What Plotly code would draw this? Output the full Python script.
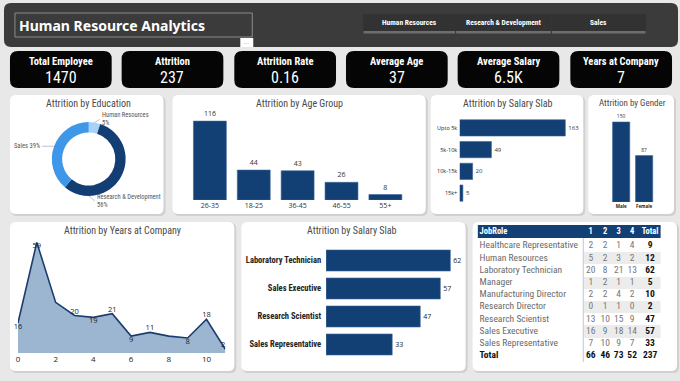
import math
import plotly.graph_objects as go

W, H = 680, 381

# ---------------- data ----------------
kpi_labels = ["Total Employee", "Attrition", "Attrition Rate", "Average Age", "Average Salary", "Years at Company"]
kpi_values = ["1470", "237", "0.16", "37", "6.5K", "7"]

departments = ["Human Resources", "Research & Development", "Sales"]
dept_attrition = [12, 133, 92]

age_groups = ["26-35", "18-25", "36-45", "46-55", "55+"]
age_attrition = [116, 44, 43, 26, 8]

salary_slabs = ["Upto 5k", "5k-10k", "10k-15k", "15k+"]
salary_attrition = [163, 49, 20, 5]

genders = ["Male", "Female"]
gender_attrition = [150, 87]

years_at_company = [0, 1, 2, 3, 4, 5, 6, 7, 8, 9, 10, 11]
years_attrition = [16, 59, 27, 20, 19, 21, 9, 11, 9, 8, 18, 2]
years_label_shown = [True, True, False, True, True, True, True, True, False, True, True, True]
years_ticks = [0, 2, 4, 6, 8, 10]

top_roles = ["Laboratory Technician", "Sales Executive", "Research Scientist", "Sales Representative"]
top_role_attrition = [62, 57, 47, 33]

job_roles = ["Healthcare Representative", "Human Resources", "Laboratory Technician", "Manager",
             "Manufacturing Director", "Research Director", "Research Scientist", "Sales Executive",
             "Sales Representative"]
level_1 = [2, 5, 20, 1, 2, 0, 13, 16, 7]
level_2 = [2, 2, 8, 2, 2, 1, 10, 9, 10]
level_3 = [1, 3, 21, 1, 4, 1, 15, 18, 9]
level_4 = [4, 2, 13, 1, 2, 0, 9, 14, 7]
level_names = ["1", "2", "3", "4"]

# ---------------- helpers ----------------
def X(x):
    return x / W

def Y(y):
    return 1 - y / H

def rr_path(x0, y0, x1, y1, r):
    return (f"M {X(x0+r)},{Y(y0)} L {X(x1-r)},{Y(y0)} Q {X(x1)},{Y(y0)} {X(x1)},{Y(y0+r)} "
            f"L {X(x1)},{Y(y1-r)} Q {X(x1)},{Y(y1)} {X(x1-r)},{Y(y1)} "
            f"L {X(x0+r)},{Y(y1)} Q {X(x0)},{Y(y1)} {X(x0)},{Y(y1-r)} "
            f"L {X(x0)},{Y(y0+r)} Q {X(x0)},{Y(y0)} {X(x0+r)},{Y(y0)} Z")

NAVY = "#123f74"
COND = "Roboto Condensed, Liberation Sans Narrow, DejaVu Sans Condensed, Roboto, sans-serif"
BODY = "Open Sans, Noto Sans, sans-serif"
TITLE_FONT = dict(family=COND, size=10, color="#4a4a4a")

shapes = []
annotations = []

def panel(x0, y0, x1, y1, r=6):
    shapes.append(dict(type="path", path=rr_path(x0 + 1, y0 + 1, x1 + 2, y1 + 2, r), xref="paper", yref="paper",
                       fillcolor="rgba(0,0,0,0.10)", line=dict(width=0), layer="below"))
    shapes.append(dict(type="path", path=rr_path(x0, y0, x1, y1, r), xref="paper", yref="paper",
                       fillcolor="white", line=dict(width=0), layer="below"))

def text(x, y, s, font, xanchor="center"):
    annotations.append(dict(x=X(x), y=Y(y), xref="paper", yref="paper", text=s, showarrow=False,
                            font=font, xanchor=xanchor, yanchor="middle"))

# header
shapes.append(dict(type="path", path=rr_path(2, 3, 678, 47, 7), xref="paper", yref="paper",
                   fillcolor="#3b3b3b", line=dict(width=0), layer="below"))
shapes.append(dict(type="rect", x0=X(13), x1=X(251), y0=Y(37), y1=Y(13), xref="paper", yref="paper",
                   fillcolor="rgba(0,0,0,0)", line=dict(color="#8c8c8c", width=1), layer="below"))
text(15, 25.5, "<b>Human Resource Analytics</b>", dict(family="Noto Sans, Open Sans, sans-serif", size=14, color="white"), "left")
shapes.append(dict(type="rect", x0=X(239), x1=X(252), y0=Y(47), y1=Y(38), xref="paper", yref="paper",
                   fillcolor="white", line=dict(width=0), layer="below"))
text(245.5, 42, "...", dict(family=BODY, size=6, color="#888"))

# tabs
tab_edges = [362, 455, 551, 646]
for i, name in enumerate(departments):
    a, b = tab_edges[i], tab_edges[i + 1]
    shapes.append(dict(type="rect", x0=X(a), x1=X(b), y0=Y(33), y1=Y(14), xref="paper", yref="paper",
                       fillcolor="#323232", line=dict(width=0), layer="below"))
    shapes.append(dict(type="rect", x0=X(a + 0.5), x1=X(b - 0.5), y0=Y(33.5), y1=Y(31), xref="paper", yref="paper",
                       fillcolor="#6e6e6e", line=dict(width=0), layer="below"))
    text((a + b) / 2, 22.5, f"<b>{name}</b>", dict(family=COND, size=7.5, color="white"))

# KPI cards
card_left = [8, 120, 233, 345, 457, 570]
for i, (lab, val) in enumerate(zip(kpi_labels, kpi_values)):
    x0 = card_left[i]
    x1 = x0 + 102
    shapes.append(dict(type="path", path=rr_path(x0, 51, x1, 88, 8), xref="paper", yref="paper",
                       fillcolor="#050505", line=dict(width=0), layer="below"))
    text((x0 + x1) / 2, 61, f"<b>{lab}</b>", dict(family=COND, size=10.5, color="white"))
    text((x0 + x1) / 2, 77.5, val, dict(family=COND, size=16, color="white"))

# panels
panel(8, 95, 162, 214)
panel(171, 95, 425, 214)
panel(430, 95, 583, 214)
panel(588, 95, 674, 214)
panel(8, 222, 233, 371)
panel(240, 222, 465, 371)
panel(472, 222, 677, 371)

text(87, 103, "Attrition by Education", TITLE_FONT)
text(298, 103, "Attrition by Age Group", TITLE_FONT)
text(507, 103, "Attrition by Salary Slab", TITLE_FONT)
text(632, 103, "Attrition by Gender", dict(family=COND, size=9, color="#4a4a4a"))
text(121, 230, "Attrition by Years at Company", TITLE_FONT)
text(351, 230, "Attrition by Salary Slab", TITLE_FONT)

fig = go.Figure()

# donut
cx, cy, R = 87, 159, 37
fig.add_trace(go.Pie(labels=departments, values=dept_attrition, hole=0.72, sort=False, direction="clockwise",
                     rotation=0, marker=dict(colors=["#a9d1f7", "#123e73", "#3f97ea"], line=dict(width=0)),
                     textinfo="none", showlegend=False, hoverinfo="label+percent",
                     domain=dict(x=[X(cx - R), X(cx + R)], y=[Y(cy + R), Y(cy - R)])))

# donut data labels with leader lines (anchored on each slice's ring)
total = sum(dept_attrition)
pct = [v / total for v in dept_attrition]
sep = ["<br>", "<br>", " "]
anchor_frac = [0.5, 0.8, 0.5]
label_offset = [(5, -3), (6, 5), (-12, 0)]
label_anchor = ["left", "left", "right"]
start = 0.0
for d, s, p, f, off, xa in zip(departments, sep, pct, anchor_frac, label_offset, label_anchor):
    ang = 2 * math.pi * (start + f * p)
    start += p
    px = cx + R * math.sin(ang)
    py = cy - R * math.cos(ang)
    annotations.append(dict(x=X(px), y=Y(py), xref="paper", yref="paper", text=f"{d}{s}{p:.0%}",
                            showarrow=True, arrowhead=0, arrowwidth=0.6, arrowcolor="#999",
                            ax=off[0], ay=off[1], xanchor=xa, yanchor="middle", align="left",
                            font=dict(family=COND, size=6.5, color="#555")))

BAR_TEXT = dict(family=BODY, size=7, color="#333")

# age group bars
fig.add_trace(go.Bar(x=age_groups, y=age_attrition, xaxis="x2", yaxis="y2", marker=dict(color=NAVY, line=dict(color="#3d6699", width=0.6)),
                     text=age_attrition, textposition="outside", textfont=BAR_TEXT, cliponaxis=False, showlegend=False))

# salary slab bars
fig.add_trace(go.Bar(y=salary_slabs, x=salary_attrition, orientation="h", xaxis="x3", yaxis="y3",
                     marker=dict(color=NAVY, line=dict(color="#3d6699", width=0.6)),
                     text=salary_attrition, textposition="outside", textfont=dict(family=BODY, size=6, color="#333"),
                     cliponaxis=False, showlegend=False))

# gender bars
fig.add_trace(go.Bar(x=genders, y=gender_attrition, xaxis="x4", yaxis="y4", marker=dict(color=NAVY, line=dict(color="#3d6699", width=0.6)),
                     text=gender_attrition, textposition="outside", textfont=dict(family=BODY, size=5, color="#333"),
                     cliponaxis=False, showlegend=False))

# years area
years_text = [str(v) if s else "" for v, s in zip(years_attrition, years_label_shown)]
years_pos = ["bottom center", "bottom center", "top center", "top center", "bottom center", "top center",
             "bottom center", "top center", "top center", "bottom center", "top center", "top left"]
fig.add_trace(go.Scatter(x=years_at_company, y=years_attrition, xaxis="x5", yaxis="y5", mode="lines+text",
                         fill="tozeroy", fillcolor="#9cb5d1", line=dict(color="#1b3c6c", width=1.6),
                         text=years_text, textposition=years_pos,
                         textfont=dict(family=BODY, size=7.5, color="#222"), cliponaxis=False, showlegend=False))

# job role bars
fig.add_trace(go.Bar(y=top_roles, x=top_role_attrition, orientation="h", xaxis="x6", yaxis="y6",
                     marker=dict(color=NAVY, line=dict(color="#3d6699", width=0.6)),
                     text=top_role_attrition, textposition="outside", textfont=dict(family=BODY, size=7, color="#222"),
                     cliponaxis=False, showlegend=False))

# ---------------- matrix table (heatmap cells + text) ----------------
level_cols = [level_1, level_2, level_3, level_4]
row_totals = [a + b + c + d for a, b, c, d in zip(*level_cols)]
n = len(job_roles)
col_edges = [0, 106, 121, 135, 148, 162, 184]          # column widths of the matrix visual (px)
col_centers = [(a + b) / 2 for a, b in zip(col_edges[:-1], col_edges[1:])]
HEADER_H, ROW_TOP, ROW_H = 13, 14.9, 12.2              # row geometry of the matrix visual (px)
row_centers = [ROW_TOP + ROW_H * (i + 0.5) for i in range(n + 1)]
y_edges = [0, HEADER_H] + [ROW_TOP + ROW_H * (i + 1) for i in range(n + 1)]

z = [[2] * 6]
for i in range(n):
    band = 1 if i % 2 == 1 else 0
    z.append([0] + [band] * 5)
z.append([0] * 6)
fig.add_trace(go.Heatmap(z=z, x=col_edges, y=y_edges, xaxis="x7", yaxis="y7",
                         colorscale=[[0, "white"], [0.5, "#ececec"], [1, NAVY]], zmin=0, zmax=2,
                         showscale=False, hoverinfo="skip", xgap=0, ygap=0))

header_text = ["<b>JobRole</b>"] + [f"<b>{l}</b>" for l in level_names] + ["<b>Total</b>"]
HDR = dict(family=COND, size=8.5, color="white")
TBL = dict(family=COND, size=9.5)
hy = HEADER_H / 2
fig.add_trace(go.Scatter(x=[col_edges[0] + 2], y=[hy], text=[header_text[0]], mode="text", textposition="middle right",
                         xaxis="x7", yaxis="y7", textfont=HDR, showlegend=False, hoverinfo="skip"))
fig.add_trace(go.Scatter(x=col_centers[1:], y=[hy] * 5, text=header_text[1:], mode="text", textposition="middle center",
                         xaxis="x7", yaxis="y7", textfont=HDR, showlegend=False, hoverinfo="skip"))
fig.add_trace(go.Scatter(x=[col_edges[0] + 2] * (n + 1), y=row_centers, text=job_roles + ["<b>Total</b>"],
                         mode="text", textposition="middle right", xaxis="x7", yaxis="y7",
                         textfont=dict(TBL, color=["#6a6a6a"] * n + ["#111"]), showlegend=False, hoverinfo="skip"))
for c, col in enumerate(level_cols):
    fig.add_trace(go.Scatter(x=[col_centers[c + 1]] * (n + 1), y=row_centers,
                             text=[str(v) for v in col] + [f"<b>{sum(col)}</b>"],
                             mode="text", textposition="middle center", xaxis="x7", yaxis="y7",
                             textfont=dict(TBL, color=["#777"] * n + ["#111"]), showlegend=False, hoverinfo="skip"))
fig.add_trace(go.Scatter(x=[col_centers[5]] * (n + 1), y=row_centers,
                         text=[f"<b>{t}</b>" for t in row_totals] + [f"<b>{sum(row_totals)}</b>"],
                         mode="text", textposition="middle center", xaxis="x7", yaxis="y7",
                         textfont=dict(TBL, color="#111"), showlegend=False, hoverinfo="skip"))

shapes.append(dict(type="line", x0=X(583), x1=X(583), y0=Y(238), y1=Y(362), xref="paper", yref="paper",
                   line=dict(color="#b9c8db", width=1)))

cat_axis = dict(showgrid=False, zeroline=False, showline=False, ticks="", fixedrange=True)
val_axis = dict(showgrid=False, zeroline=False, showline=False, showticklabels=False, ticks="", fixedrange=True)

fig.update_layout(
    width=W, height=H, margin=dict(l=0, r=0, t=0, b=0),
    paper_bgcolor="#e8e8e8", plot_bgcolor="rgba(0,0,0,0)",
    shapes=shapes, annotations=annotations, bargap=0.25,
    xaxis2=dict(domain=[X(186.5), X(406.5)], anchor="y2", tickfont=dict(family=BODY, size=7, color="#333"), **cat_axis),
    yaxis2=dict(domain=[Y(200), Y(115)], anchor="x2", range=[0, 125], **val_axis),
    xaxis3=dict(domain=[X(459), X(575)], anchor="y3", range=[0, 178.4], **val_axis),
    yaxis3=dict(domain=[Y(204), Y(117)], anchor="x3", autorange="reversed", ticksuffix=" ",
                tickfont=dict(family=BODY, size=5.5, color="#222"), **cat_axis),
    xaxis4=dict(domain=[X(609.5), X(655.5)], anchor="y4", tickfont=dict(family=BODY, size=4.5, color="#222", weight="bold"), **cat_axis),
    yaxis4=dict(domain=[Y(202), Y(117)], anchor="x4", range=[0, 159.4], **val_axis),
    xaxis5=dict(domain=[X(16), X(224)], anchor="y5", range=[0, 11], tickvals=years_ticks,
                tickfont=dict(family=BODY, size=8, color="#222"), showgrid=False, zeroline=False, showline=False, ticks="", fixedrange=True),
    yaxis5=dict(domain=[Y(353), Y(236)], anchor="x5", range=[0, 62.4], **val_axis),
    xaxis6=dict(domain=[X(325), X(460)], anchor="y6", range=[0, 67.15], **val_axis),
    yaxis6=dict(domain=[Y(358.5), Y(246.5)], anchor="x6", autorange="reversed", ticksuffix="  ",
                tickfont=dict(family=COND, size=8.5, color="#222", weight="bold"), **cat_axis),
    xaxis7=dict(domain=[X(477), X(661)], anchor="y7", range=[0, 184], **val_axis),
    yaxis7=dict(domain=[Y(362), Y(225)], anchor="x7", range=[137, 0], **val_axis),
)

fig.write_html("out.html", config={"displayModeBar": False},
               post_script="document.body.style.margin='0px';document.body.style.overflow='hidden';")
